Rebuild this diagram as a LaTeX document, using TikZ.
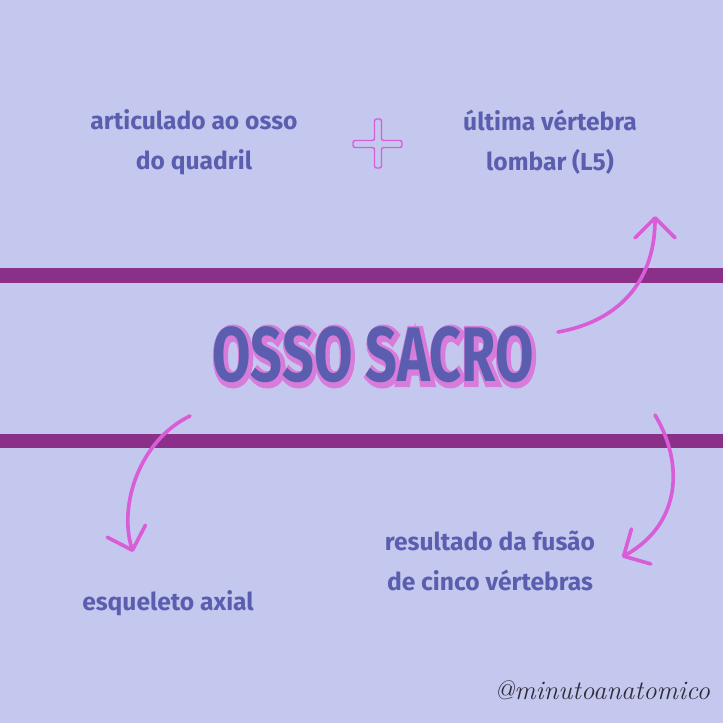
\documentclass[tikz,border=0pt]{standalone}
\usepackage{fontspec}
\newfontfamily\labelfont{Fira Sans}
\newfontfamily\titlefat{Fira Sans}[UprightFont=* Bold, FakeBold=10]
\usetikzlibrary{arrows.meta}
\definecolor{bgcol}{HTML}{C5C8EE}
\definecolor{barcol}{HTML}{8B3088}
\definecolor{txtcol}{HTML}{5B5EAF}
\definecolor{arrowcol}{HTML}{D85DD6}
\definecolor{titlepink}{HTML}{D77CDA}
\definecolor{handlecol}{HTML}{2F2D3A}
\begin{document}
\begin{tikzpicture}[x=0.025cm, y=-0.025cm,
		label/.style={align=center, text=txtcol, font=\labelfont\fontsize{17.5}{28.5}\selectfont\bfseries},
		brush/.style={draw=arrowcol, line width=2.6pt, line cap=round, -{Straight Barb[round, length=5mm, width=10mm]}}]
		% Background
		\fill[bgcol] (0,0) rectangle (723,723);
		\useasboundingbox (0,0) rectangle (723,723);
		
		% Bars
		\fill[barcol] (0,268) rectangle (723,283);
		\fill[barcol] (0,434) rectangle (723,448);
		
		% Title with pink outline and shadow
		\node[text=titlepink, font=\titlefat\fontsize{55}{60}\selectfont] (title-back) at (374.5,356.5) {\scalebox{0.72}[1]{OSSO SACRO}};
		\node[text=txtcol, font=\labelfont\fontsize{55}{60}\selectfont\bfseries] (title) at (373,355) {\scalebox{0.72}[1]{OSSO SACRO}};
		
		% Labels
		\node[label] (quadril) at (194,142) {articulado ao osso\\do quadril};
		\node[label] (lombar) at (550,142) {última vértebra\\lombar (L5)};
		\node[label] (fusao) at (490,561) {resultado da fusão\\de cinco vértebras};
		\node[label] (axial) at (168,603) {esqueleto axial};
		
		% Plus sign
		\draw[arrowcol, line width=1pt, rounded corners=1.5pt]
			(374.5,119) -- (381.5,119) -- (381.5,140.5) -- (402,140.5) -- (402,147.5) -- (381.5,147.5)
			-- (381.5,168) -- (374.5,168) -- (374.5,147.5) -- (353,147.5) -- (353,140.5) -- (374.5,140.5) -- cycle;
		
		% Arrow ends
		\coordinate (up-s) at (558,332);
		\coordinate (up-e) at (655,216);
		\coordinate (left-s) at (190,416);
		\coordinate (left-e) at (133,552);
		\coordinate (right-s) at (655,415);
		\coordinate (right-e) at (622,557);
		
		% Arrows
		\draw[brush] (up-s) .. controls (615,322) and (655,285) .. (up-e);
		\draw[brush] (left-s) .. controls (140,440) and (118,505) .. (left-e);
		\draw[brush] (right-s) .. controls (685,465) and (680,525) .. (right-e);
		
		% Handle
		\node[anchor=east, text=handlecol, font=\fontsize{19}{22}\selectfont\itshape] (handle) at (715,690) {@minutoanatomico};
	\end{tikzpicture}
\end{document}
